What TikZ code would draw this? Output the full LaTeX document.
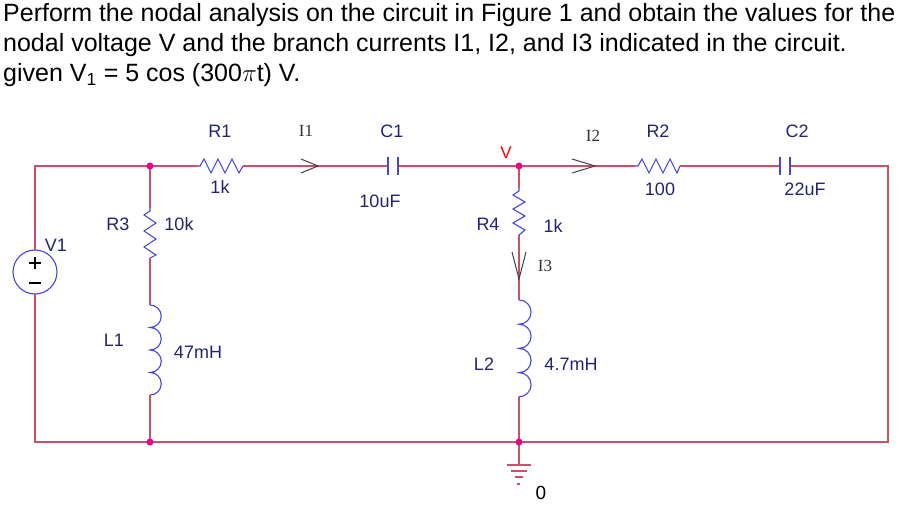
\documentclass[tikz,border=0pt]{standalone}
\usepackage{fontspec}
\setmainfont{Liberation Sans}
\newfontfamily\tms{Liberation Serif}
\begin{document}
\begin{tikzpicture}[x=1pt,y=-1pt,
  wire/.style={draw={rgb,255:red,205;green,80;blue,105},line width=1.2pt},
  comp/.style={draw={rgb,255:red,70;green,70;blue,220},line width=1.1pt},
  lbl/.style={text={rgb,255:red,35;green,35;blue,110},font=\fontsize{18}{18}\selectfont,inner sep=0},
  cur/.style={text=black!80,font=\tms\fontsize{17}{17}\selectfont,inner sep=0},
  carrow/.style={draw=black!75,line width=1pt},
  dot/.style={circle,fill=magenta,inner sep=0,minimum size=7pt}]
\useasboundingbox (0,0) rectangle (910,505);
\foreach \l/\y in {{Perform the nodal analysis on the circuit in Figure 1 and obtain the values for the}/15,{nodal voltage V and the branch currents I1, I2, and I3 indicated in the circuit.}/45,{given V\textsubscript{1} = 5 cos (300$\pi$t) V.}/75}
  \node[anchor=west,inner sep=0,font=\fontsize{25}{25}\selectfont] at (3,\y) {\l};
% coordinates
\coordinate (TL) at (35,166); \coordinate (A) at (150,166); \coordinate (V) at (519,166);
\coordinate (TR) at (888,166); \coordinate (BR) at (888,442); \coordinate (BL) at (35,442);
\coordinate (B) at (150,442); \coordinate (G) at (519,442);
% wires
\draw[wire] (35,250) -- (TL) -- (197,166);
\draw[wire] (243,166) -- (388,166); \draw[wire] (398,166) -- (635,166);
\draw[wire] (680,166) -- (780,166); \draw[wire] (790,166) -- (TR) -- (BR) -- (BL) -- (35,294);
\draw[wire] (A) -- (150,208); \draw[wire] (150,258) -- (150,305); \draw[wire] (150,395) -- (B);
\draw[wire] (V) -- (519,188); \draw[wire] (519,235) -- (519,300); \draw[wire] (519,397) -- (G) -- (519,465);
% R1
\draw[comp] (197,166) -- (200,166) -- (204,159) -- (211,173) -- (218,159) -- (225,173) -- (232,159) -- (239,173) -- (243,166);
% R2
\draw[comp] (635,166) -- (638,166) -- (642,159) -- (649,173) -- (656,159) -- (663,173) -- (670,159) -- (677,173) -- (680,166);
% C1, C2
\draw[comp] (388,157) -- (388,175) (398,157) -- (398,175);
\draw[comp] (780,157) -- (780,175) (790,157) -- (790,175);
% R3
\draw[comp] (150,208) -- (150,211) -- (144,215) -- (156,223) -- (144,231) -- (156,239) -- (144,247) -- (156,255) -- (150,258);
% R4
\draw[comp] (519,188) -- (519,191) -- (513,195) -- (525,202) -- (513,209) -- (525,216) -- (513,223) -- (525,230) -- (519,235);
% L1, L2
\draw[comp] (150,305) \foreach \i in {1,...,4} {arc[start angle=-90,end angle=90,radius=11.25]};
\draw[comp] (519,300) \foreach \i in {1,...,4} {arc[start angle=-90,end angle=90,radius=12.1]};
% source
\draw[comp] (35,272) circle[radius=22];
\draw[line width=1.3pt] (29,263) -- (41,263) (35,257) -- (35,269) (29,283) -- (41,283);
% ground
\draw[wire] (507,465) -- (531,465) (511,471) -- (527,471) (515,477) -- (523,477);
\fill[fill={rgb,255:red,205;green,80;blue,105}] (517,483) rectangle (520,485);
% dots
\node[dot] at (A) {}; \node[dot] at (V) {}; \node[dot] at (B) {}; \node[dot] at (G) {};
% current arrows
\draw[carrow] (301,159) -- (318,166) -- (301,173);
\draw[carrow] (572,159) -- (595,166) -- (572,173);
\draw[carrow] (512,252) -- (519,279) -- (526,252);
% labels
\node[lbl] at (220,131) {R1}; \node[lbl] at (220,187) {1k};
\node[cur] at (306,131) {I1};
\node[lbl] at (392,131) {C1}; \node[lbl] at (380,201) {10uF};
\node[cur] at (593,136) {I2};
\node[lbl] at (658,131) {R2}; \node[lbl] at (660,189) {100};
\node[lbl] at (797,131) {C2}; \node[lbl] at (805,189) {22uF};
\node[text=red,font=\fontsize{17}{17}\selectfont,inner sep=0] at (506,153) {V};
\node[lbl] at (118,224) {R3}; \node[lbl] at (179,224) {10k};
\node[lbl] at (56,245) {V1};
\node[lbl] at (488,224) {R4}; \node[lbl] at (553,226) {1k};
\node[cur] at (545,266) {I3};
\node[lbl] at (114,340) {L1}; \node[lbl] at (198,352) {47mH};
\node[lbl] at (484,364) {L2}; \node[lbl] at (571,364) {4.7mH};
\node[font=\fontsize{19}{19}\selectfont,inner sep=0] at (541,493) {0};
\end{tikzpicture}
\end{document}
